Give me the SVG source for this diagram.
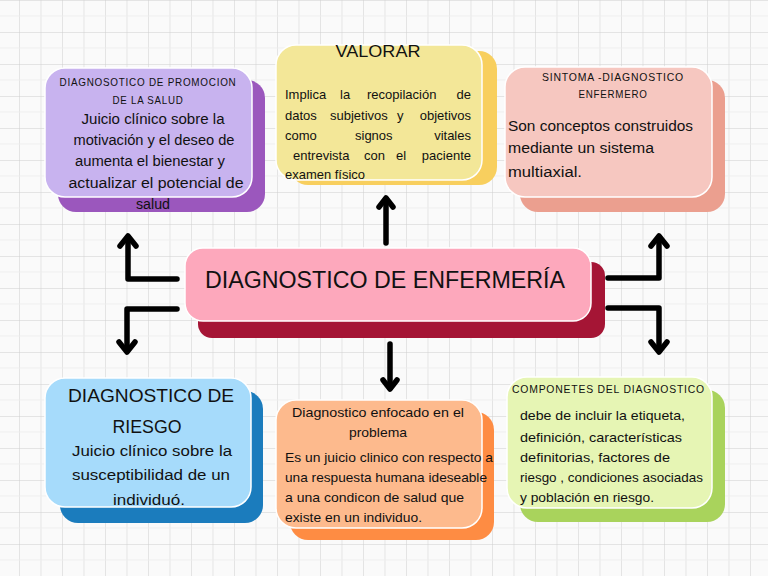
<svg xmlns="http://www.w3.org/2000/svg" width="768" height="576" viewBox="0 0 768 576">
<defs>
<pattern id="grid" x="19" y="0" width="21.5" height="32" patternUnits="userSpaceOnUse">
<rect width="21.5" height="32" fill="#fafafa"/>
<path d="M0,0 V32 M0,0 H21.5" stroke="#cfcfcf" stroke-width="1" fill="none"/>
<path d="M0,16 H21.5" stroke="#ececec" stroke-width="0.8" fill="none"/>
</pattern>
<style>
text{font-family:"Liberation Sans","DejaVu Sans",sans-serif;fill:#111;}
.cap{font-size:10.5px;letter-spacing:0.8px;}
.body{font-size:14px;}
.sm{font-size:13px;}
.main{stroke:#ffffff;stroke-width:1.5;}
.arr{fill:none;stroke:#000;stroke-width:5.5;stroke-linecap:round;stroke-linejoin:round;}
</style>
</defs>
<rect width="768" height="576" fill="url(#grid)"/>

<g id="connectors">
<path class="arr" d="M177,279 H128 V237"/><path class="arr" d="M120,246 L128,236 L136,246"/>
<path class="arr" d="M177,309 H127 V351"/><path class="arr" d="M119,342 L127,352 L135,342"/>
<path class="arr" d="M608,278 H659 V237"/><path class="arr" d="M651,246 L659,236 L667,246"/>
<path class="arr" d="M608,308 H659 V351"/><path class="arr" d="M651,342 L659,352 L667,342"/>
<path class="arr" d="M386,243 V199"/><path class="arr" d="M379,207 L386,198 L393,207"/>
<path class="arr" d="M390,344 V388"/><path class="arr" d="M383,380 L390,389 L397,380"/>
</g>

<g id="center">
<rect x="198" y="262" width="407" height="76" rx="14" fill="#a51535"/>
<rect class="main" x="185" y="248" width="406" height="73" rx="18" fill="#fda8bc"/>
<text x="385" y="288" text-anchor="middle" font-size="23" textLength="360" lengthAdjust="spacingAndGlyphs">DIAGNOSTICO DE ENFERMERÍA</text>
</g>

<g id="promocion">
<rect x="58" y="80" width="207" height="132" rx="18" fill="#9b57bd"/>
<rect class="main" x="45" y="68" width="207" height="129" rx="20" fill="#c8b3ef"/>
<text class="cap" x="148" y="86" text-anchor="middle" textLength="177" lengthAdjust="spacingAndGlyphs">DIAGNOSOTICO DE PROMOCION</text>
<text class="cap" x="148" y="104" text-anchor="middle" textLength="71" lengthAdjust="spacingAndGlyphs">DE LA SALUD</text>
<text class="body" x="153" y="124" text-anchor="middle" textLength="143" lengthAdjust="spacingAndGlyphs">Juicio clínico sobre la</text>
<text class="body" x="154" y="145" text-anchor="middle" textLength="161" lengthAdjust="spacingAndGlyphs">motivación y el deseo de</text>
<text class="body" x="150" y="166" text-anchor="middle" textLength="150" lengthAdjust="spacingAndGlyphs">aumenta el bienestar y</text>
<text class="body" x="156" y="188" text-anchor="middle" textLength="175" lengthAdjust="spacingAndGlyphs">actualizar  el potencial de</text>
<text class="body" x="153" y="209" text-anchor="middle" textLength="34" lengthAdjust="spacingAndGlyphs">salud</text>
</g>

<g id="valorar">
<rect x="290" y="51" width="207" height="134" rx="18" fill="#f8cf5e"/>
<rect class="main" x="276" y="45" width="206" height="135" rx="20" fill="#f3e798"/>
<text x="378" y="57" text-anchor="middle" font-size="17" textLength="85" lengthAdjust="spacingAndGlyphs">VALORAR</text>
<text class="sm" y="99"><tspan x="285">Implica</tspan><tspan x="340">la</tspan><tspan x="367">recopilación</tspan><tspan x="471" text-anchor="end">de</tspan></text>
<text class="sm" y="120"><tspan x="285">datos</tspan><tspan x="330">subjetivos</tspan><tspan x="397">y</tspan><tspan x="471" text-anchor="end">objetivos</tspan></text>
<text class="sm" y="140"><tspan x="285">como</tspan><tspan x="355">signos</tspan><tspan x="471" text-anchor="end">vitales</tspan></text>
<text class="sm" y="160"><tspan x="293">entrevista</tspan><tspan x="364">con</tspan><tspan x="396">el</tspan><tspan x="471" text-anchor="end">paciente</tspan></text>
<text class="sm" x="285" y="179" textLength="80" lengthAdjust="spacingAndGlyphs">examen físico</text>
</g>

<g id="sintoma">
<rect x="520" y="80" width="205" height="132" rx="18" fill="#eb9f8f"/>
<rect class="main" x="505" y="67" width="207" height="130" rx="20" fill="#f6c7c0"/>
<text class="cap" x="613" y="81" text-anchor="middle" textLength="142" lengthAdjust="spacingAndGlyphs">SINTOMA -DIAGNOSTICO</text>
<text class="cap" x="613" y="98" text-anchor="middle" textLength="69" lengthAdjust="spacingAndGlyphs">ENFERMERO</text>
<text class="body" x="508" y="131" textLength="185" lengthAdjust="spacingAndGlyphs">Son conceptos construidos</text>
<text class="body" x="508" y="153" textLength="146" lengthAdjust="spacingAndGlyphs">mediante un sistema</text>
<text class="body" x="508" y="177" textLength="74" lengthAdjust="spacingAndGlyphs">multiaxial.</text>
</g>

<g id="riesgo">
<rect x="60" y="391" width="203" height="132" rx="18" fill="#1b7cbd"/>
<rect class="main" x="45" y="378" width="206" height="129" rx="20" fill="#a6dbfb"/>
<text x="151" y="402" text-anchor="middle" font-size="18" textLength="166" lengthAdjust="spacingAndGlyphs">DIAGNOSTICO DE</text>
<text x="147" y="433" text-anchor="middle" font-size="18" textLength="69" lengthAdjust="spacingAndGlyphs">RIESGO</text>
<text class="body" x="152" y="456" text-anchor="middle" textLength="160" lengthAdjust="spacingAndGlyphs">Juicio clínico sobre la</text>
<text class="body" x="151" y="480" text-anchor="middle" textLength="158" lengthAdjust="spacingAndGlyphs">susceptibilidad de un</text>
<text class="body" x="149" y="505" text-anchor="middle" textLength="72" lengthAdjust="spacingAndGlyphs">individuó.</text>
</g>

<g id="enfocado">
<rect x="290" y="412" width="204" height="128" rx="18" fill="#fe8c43"/>
<rect class="main" x="276" y="400" width="206" height="128" rx="20" fill="#fdba8d"/>
<text class="sm" x="378" y="417" text-anchor="middle" textLength="172" lengthAdjust="spacingAndGlyphs">Diagnostico enfocado en el</text>
<text class="sm" x="378" y="437" text-anchor="middle" textLength="58" lengthAdjust="spacingAndGlyphs">problema</text>
<text class="sm" x="285" y="462" textLength="208" lengthAdjust="spacingAndGlyphs">Es un juicio clinico con respecto a</text>
<text class="sm" x="285" y="482" textLength="202" lengthAdjust="spacingAndGlyphs">una respuesta humana ideseable</text>
<text class="sm" x="285" y="502" textLength="179" lengthAdjust="spacingAndGlyphs">a una condicon de salud que</text>
<text class="sm" x="285" y="522" textLength="137" lengthAdjust="spacingAndGlyphs">existe en un individuo.</text>
</g>

<g id="componentes">
<rect x="520" y="390" width="205" height="132" rx="18" fill="#a9d35c"/>
<rect class="main" x="507" y="377" width="205" height="131" rx="20" fill="#e6f5b4"/>
<text class="cap" x="512" y="393" textLength="193" lengthAdjust="spacingAndGlyphs">COMPONETES DEL DIAGNOSTICO</text>
<text class="sm" x="520" y="420" textLength="165" lengthAdjust="spacingAndGlyphs">debe de incluir la etiqueta,</text>
<text class="sm" x="520" y="442" textLength="162" lengthAdjust="spacingAndGlyphs">definición, características</text>
<text class="sm" x="520" y="462" textLength="150" lengthAdjust="spacingAndGlyphs">definitorias, factores de</text>
<text class="sm" x="520" y="482" textLength="183" lengthAdjust="spacingAndGlyphs">riesgo , condiciones asociadas</text>
<text class="sm" x="520" y="502" textLength="134" lengthAdjust="spacingAndGlyphs">y población en riesgo.</text>
</g>
</svg>
